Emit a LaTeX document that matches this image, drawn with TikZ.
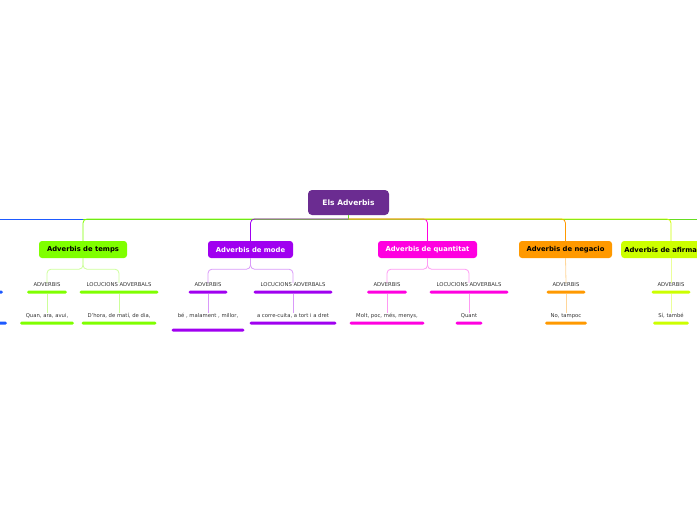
\documentclass[tikz,border=0pt]{standalone}
\usepackage{fontspec}
\setmainfont{DejaVu Sans}
\begin{document}
\begin{tikzpicture}[x=1pt,y=-1pt,
  top/.style={rounded corners=3pt,fill=#1,minimum height=17pt,inner sep=0pt,font=\fontsize{6.8}{8}\selectfont\bfseries},
  lbl/.style={font=\fontsize{5.3}{6}\selectfont,inner sep=0pt,text=black!80},
  bar/.style={fill=#1,rounded corners=1.5pt,minimum height=3pt,inner sep=0pt},
  con/.style={draw=#1,line width=0.8pt,rounded corners=4pt}]
\useasboundingbox (0,0) rectangle (697,520);
\clip (0,0) rectangle (697,520);
\definecolor{cT}{HTML}{7FFF00}\definecolor{cM}{HTML}{A000F0}\definecolor{cQ}{HTML}{FF00E0}
\definecolor{cN}{HTML}{FF9900}\definecolor{cA}{HTML}{CCFF00}\definecolor{cR}{HTML}{6B2C91}\definecolor{cB}{HTML}{1E5AFF}
\definecolor{cL}{HTML}{66DD22}
\node[top=cR,text=white,minimum width=81pt,minimum height=25pt,font=\fontsize{7.5}{9}\selectfont\bfseries,rounded corners=4pt] (root) at (348.5,202.5) {Els Adverbis};
\coordinate (rj) at (348.5,219);
\coordinate (hL) at (0,219); \coordinate (hR) at (697,219);
\node[top=cT,minimum width=88pt] (t) at (83,249.5) {Adverbis de temps};
\node[top=cM,text=white,minimum width=85pt] (m) at (250.5,249.5) {Adverbis de mode};
\node[top=cQ,text=white,minimum width=99pt] (q) at (427.5,249.5) {Adverbis de quantitat};
\node[top=cN,minimum width=93pt] (n) at (565.5,249.5) {Adverbis de negacio};
\node[top=cA,minimum width=90pt,anchor=west] (a) at (621,249.5) {Adverbis de afirmació};
\coordinate (aT) at (671,241);
% main connectors
\draw[con=cB,rounded corners=0pt] (hL) -- (83,219);
\draw[con=cL,rounded corners=0pt] (root.south) -- (rj) -- (hR);
\draw[con=cL,rounded corners=0pt] (rj) -- (83,219);
\draw[con=cT] (rj) -| (t.north);
\draw[con=cM] (rj) -| (m.north);
\draw[con=cQ] (rj) -| (q.north);
\draw[con=cN] (rj) -| (n.north);
\draw[con=cA] (rj) -| (aT);
% sub branches
\foreach \p/\c/\x/\w/\nm/\txt in {t/cT/47/40/ta/ADVERBIS,t/cT/119/79/tl/LOCUCIONS ADVERBALS,
  m/cM/208/39/ma/ADVERBIS,m/cM/293/79/ml/LOCUCIONS ADVERBALS,
  q/cQ/387/40/qa/ADVERBIS,q/cQ/469/79/ql/LOCUCIONS ADVERBALS}{
  \node[lbl] (\nm) at (\x,285) {\txt};
  \node[bar=\c,minimum width=\w pt] (\nm b) at (\x,292) {};
  \draw[con=\c!40] (\p.south) -- ([yshift=-11pt]\p.south) -| (\nm.north);
}
\node[lbl] (na) at (566,285) {ADVERBIS};
\node[bar=cN,minimum width=39pt] (nab) at (566,292) {};
\draw[con=cN!40] (n.south) -- (na.north);
\node[lbl] (aa) at (671,285) {ADVERBIS};
\node[bar=cA,minimum width=39pt] (aab) at (671,292) {};
\draw[con=cA!40] (aT |- a.south) -- (aa.north);
\foreach \s/\c/\x/\y/\w/\nm/\txt in {ta/cT/47/323/54/tai/{Quan, ara, avui,},tl/cT/119/323/75/tli/{D'hora, de matí, de dia,},
  ma/cM/208/330/73/mai/{bé , malament , millor,},ml/cM/293/323/87/mli/{a corre-cuita, a tort i a dret},
  qa/cQ/387/323/75/qai/{Molt, poc, més, menys,},ql/cQ/469/323/27/qli/{Quant},
  na/cN/566/323/42/nai/{No, tampoc},aa/cA/671/323/36/aai/{Sí, també}}{
  \node[lbl] (\nm) at (\x,316) {\txt};
  \node[bar=\c,minimum width=\w pt] (\nm b) at (\x,\y) {};
  \draw[con=\c!40] (\s b.south) -- (\nm.north);
}
\node[bar=cB,minimum width=6pt] (lb1) at (0,292) {};
\node[bar=cB,minimum width=14pt] (lb2) at (0,323) {};
\end{tikzpicture}
\end{document}
